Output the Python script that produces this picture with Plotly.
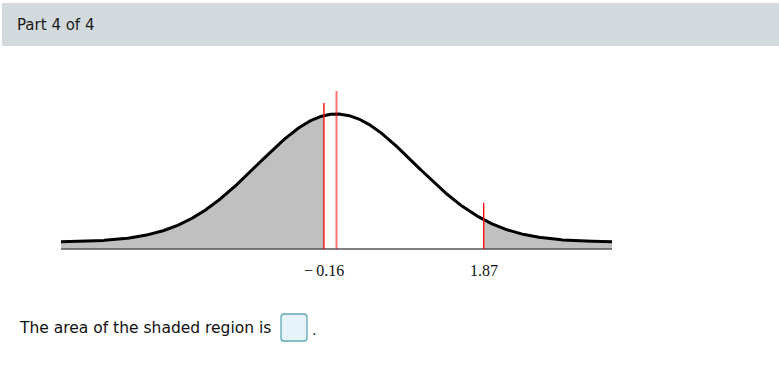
import numpy as np
import plotly.graph_objects as go

# ---- data ----
mean = 0.0
sd = 1.0
z_left = -0.16
z_right = 1.87
tick_values = [-0.16, 1.87]
tick_labels = ["\u2212\u20090.16", "1.87"]
x_min, x_max = -3.5, 3.5

W, H = 779, 378

def pdf(x):
    return np.exp(-0.5 * ((x - mean) / sd) ** 2) / (sd * np.sqrt(2 * np.pi))

peak = pdf(mean)
px_per_unit_y = peak / 128.0          # curve peak 128 px above its zero level
base_y = -7 * px_per_unit_y           # axis line sits 7 px below curve zero

xs = np.linspace(x_min, x_max, 800)
ys = pdf(xs)

fig = go.Figure()

def shade(a, b):
    xx = np.linspace(a, b, 300)
    yy = pdf(xx)
    px_ = np.concatenate([xx, [b, a]])
    py_ = np.concatenate([yy, [base_y, base_y]])
    fig.add_trace(go.Scatter(x=px_, y=py_, fill="toself", fillcolor="#c0c0c0",
                             line=dict(width=0), mode="lines", hoverinfo="skip",
                             showlegend=False))

shade(x_min, z_left)
shade(z_right, x_max)

# axis line
fig.add_trace(go.Scatter(x=[x_min, x_max], y=[base_y, base_y], mode="lines",
                         line=dict(color="#555555", width=1.5), showlegend=False,
                         hoverinfo="skip"))

# curve
fig.add_trace(go.Scatter(x=xs, y=ys, mode="lines", line=dict(color="black", width=3),
                         showlegend=False, hoverinfo="skip"))

# red lines
def vline(x, top, color, width):
    fig.add_trace(go.Scatter(x=[x, x], y=[base_y, top], mode="lines",
                             line=dict(color=color, width=width), showlegend=False,
                             hoverinfo="skip"))

vline(mean, peak + 23 * px_per_unit_y, "rgba(255,0,0,0.55)", 2)
vline(z_left, peak + 11 * px_per_unit_y, "#ff0000", 1.3)
vline(z_right, pdf(z_right) + 17 * px_per_unit_y, "#ff0000", 1.3)

# y-range mapping: pixel 60 -> 260
y_top = (242 - 60) * px_per_unit_y
y_bot = -(260 - 242) * px_per_unit_y

fig.update_layout(
    width=W, height=H,
    margin=dict(l=0, r=0, t=0, b=0),
    paper_bgcolor="white", plot_bgcolor="rgba(0,0,0,0)",
    xaxis=dict(domain=[61 / W, 612 / W], range=[x_min, x_max], visible=False,
               fixedrange=True),
    yaxis=dict(domain=[1 - 260 / H, 1 - 60 / H], range=[y_bot, y_top], visible=False,
               fixedrange=True),
    showlegend=False,
)

# tick labels
for v, lab in zip(tick_values, tick_labels):
    fig.add_annotation(x=v, y=1 - 270 / H, xref="x", yref="paper", text=lab,
                       showarrow=False, xanchor="center", yanchor="middle",
                       font=dict(family="Liberation Serif", size=16, color="#111111"))

# header band
fig.add_shape(type="rect", xref="paper", yref="paper", x0=2 / W, x1=1,
              y0=1 - 46 / H, y1=1 - 3 / H, fillcolor="#d2dadd", line=dict(width=0),
              layer="below")
fig.add_annotation(x=15 / W, y=1 - 25 / H, xref="paper", yref="paper",
                   text="Part 4 of 4", showarrow=False, xanchor="left", yanchor="middle",
                   font=dict(family="DejaVu Sans", size=15, color="#1a1a1a"))

# bottom text
fig.add_annotation(x=17 / W, y=1 - 328 / H, xref="paper", yref="paper",
                   text="The area of the shaded region is", showarrow=False,
                   xanchor="left", yanchor="middle",
                   font=dict(family="DejaVu Sans", size=15.5, color="#111111"))

# answer box with rounded corners (pixel coords -> paper)
def P(x, y):
    return f"{x / W:.5f},{1 - y / H:.5f}"
x0, x1, y0, y1, r = 281, 307, 314, 341, 3
path = (f"M {P(x0 + r, y0)} L {P(x1 - r, y0)} Q {P(x1, y0)} {P(x1, y0 + r)} "
        f"L {P(x1, y1 - r)} Q {P(x1, y1)} {P(x1 - r, y1)} "
        f"L {P(x0 + r, y1)} Q {P(x0, y1)} {P(x0, y1 - r)} "
        f"L {P(x0, y0 + r)} Q {P(x0, y0)} {P(x0 + r, y0)} Z")
fig.add_shape(type="path", xref="paper", yref="paper", path=path,
              fillcolor="#e6f4f9", line=dict(color="#5faab8", width=1.3))
fig.add_annotation(x=310 / W, y=1 - 330 / H, xref="paper", yref="paper", text=".",
                   showarrow=False, xanchor="left", yanchor="middle",
                   font=dict(family="DejaVu Sans", size=14, color="#111111"))

fig.write_html("out.html")
